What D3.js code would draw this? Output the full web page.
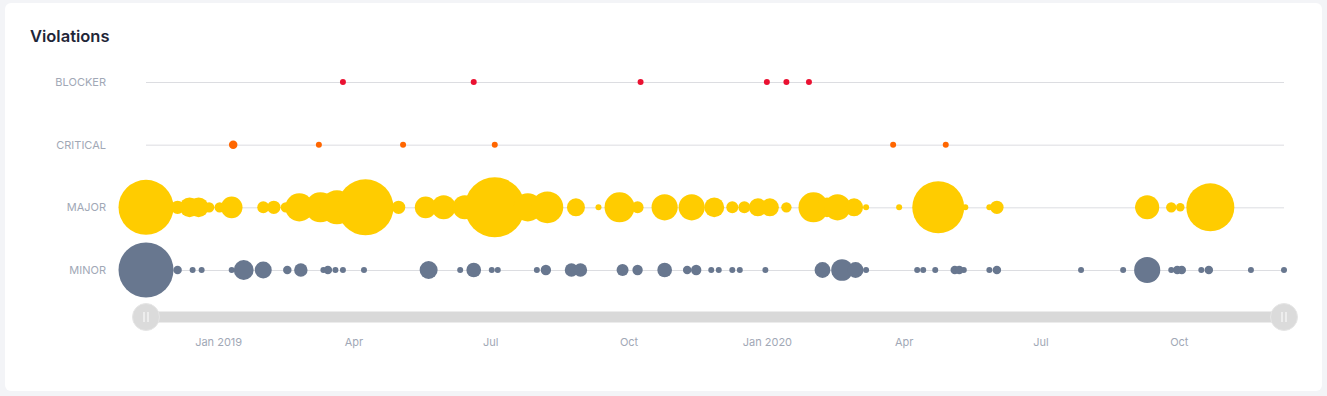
<!DOCTYPE html>
<html>
<head>
<meta charset="utf-8">
<script src="https://cdn.jsdelivr.net/npm/d3@7"></script>
<style>
  body { margin: 0; background: #f3f4f7; font-family: Inter, "Noto Sans", sans-serif; }
  #chart { position: relative; }
</style>
</head>
<body>
<div id="chart"></div>
<script>
// severity rows, top to bottom
var severities = ["BLOCKER", "CRITICAL", "MAJOR", "MINOR"];
var severityColors = ["#ea1131", "#ff6600", "#ffcc00", "#68778f"];

// x-axis tick dates
var tickDates = ["2019-01-01", "2019-04-01", "2019-07-01", "2019-10-01",
                 "2020-01-01", "2020-04-01", "2020-07-01", "2020-10-01"];

// [date, violation count] per severity
var blockerData = [
  ["2019-03-25", 1], ["2019-06-20", 1], ["2019-10-09", 1],
  ["2020-01-01", 1], ["2020-01-14", 1], ["2020-01-29", 1]
];
var criticalData = [
  ["2019-01-11", 2], ["2019-03-09", 1], ["2019-05-04", 1], ["2019-07-04", 1],
  ["2020-03-25", 1], ["2020-04-29", 1]
];
var majorData = [
  ["2018-11-14", 84], ["2018-12-05", 5], ["2018-12-13", 11], ["2018-12-19", 11],
  ["2018-12-26", 3], ["2019-01-02", 3], ["2019-01-10", 13], ["2019-01-31", 4],
  ["2019-02-07", 5], ["2019-02-15", 3], ["2019-02-24", 22], ["2019-03-10", 25],
  ["2019-03-21", 32], ["2019-04-09", 87], ["2019-05-01", 5], ["2019-05-19", 13],
  ["2019-05-31", 16], ["2019-06-14", 16], ["2019-07-04", 100], ["2019-07-26", 22],
  ["2019-08-08", 28], ["2019-08-27", 9], ["2019-09-11", 1], ["2019-09-25", 25],
  ["2019-10-07", 4], ["2019-10-25", 19], ["2019-11-12", 19], ["2019-11-27", 11],
  ["2019-12-09", 4], ["2019-12-17", 4], ["2019-12-26", 9], ["2020-01-03", 9],
  ["2020-01-14", 3], ["2020-02-01", 25], ["2020-02-10", 11], ["2020-02-17", 19],
  ["2020-02-28", 9], ["2020-03-07", 1], ["2020-03-29", 1], ["2020-04-24", 75],
  ["2020-05-12", 1], ["2020-05-28", 1], ["2020-06-02", 5], ["2020-09-04", 1],
  ["2020-09-10", 16], ["2020-09-26", 3], ["2020-10-02", 2], ["2020-10-22", 64]
];
var minorData = [
  ["2018-11-14", 84], ["2018-12-05", 2], ["2018-12-15", 1], ["2018-12-21", 1],
  ["2019-01-10", 1], ["2019-01-18", 11], ["2019-01-31", 8], ["2019-02-16", 2],
  ["2019-02-25", 5], ["2019-03-12", 1], ["2019-03-15", 2], ["2019-03-20", 1],
  ["2019-03-25", 1], ["2019-04-08", 1], ["2019-05-21", 9], ["2019-06-11", 1],
  ["2019-06-20", 6], ["2019-07-02", 1], ["2019-07-06", 1], ["2019-08-01", 1],
  ["2019-08-07", 3], ["2019-08-24", 5], ["2019-08-30", 5], ["2019-09-27", 4],
  ["2019-10-07", 3], ["2019-10-25", 6], ["2019-11-09", 2], ["2019-11-15", 3],
  ["2019-11-25", 1], ["2019-11-30", 1], ["2019-12-09", 1], ["2019-12-14", 1],
  ["2019-12-31", 1], ["2020-02-07", 7], ["2020-02-20", 13], ["2020-02-29", 7],
  ["2020-03-07", 1], ["2020-04-10", 1], ["2020-04-14", 1], ["2020-04-22", 1],
  ["2020-05-05", 2], ["2020-05-08", 2], ["2020-05-11", 1], ["2020-05-28", 1],
  ["2020-06-02", 2], ["2020-07-28", 1], ["2020-08-25", 1], ["2020-09-10", 19],
  ["2020-09-26", 1], ["2020-09-30", 2], ["2020-10-03", 2], ["2020-10-16", 1],
  ["2020-10-21", 2], ["2020-11-18", 1], ["2020-12-10", 1]
];

var seriesData = [blockerData, criticalData, majorData, minorData];

var width = 1327;
var height = 396;
var margin = { top: 82, right: 43, bottom: 126, left: 146 };

var parseDate = d3.timeParse("%Y-%m-%d");

var svg = d3.select("#chart")
  .append("svg")
  .attr("width", width)
  .attr("height", height);

// card
svg.append("rect")
  .attr("x", 5).attr("y", 3)
  .attr("width", 1317).attr("height", 388)
  .attr("rx", 6)
  .attr("fill", "#fff");

svg.append("text")
  .attr("x", 30).attr("y", 42)
  .attr("fill", "#1f2638")
  .style("font-size", "16.5px")
  .style("font-weight", 600)
  .text("Violations");

// flatten everything to get the time extent
var allPoints = [];
seriesData.forEach(function (s, i) {
  s.forEach(function (d) {
    allPoints.push({ sev: severities[i], date: parseDate(d[0]), count: d[1], color: severityColors[i] });
  });
});

var xScale = d3.scaleTime()
  .domain(d3.extent(allPoints, function (d) { return d.date; }))
  .range([margin.left, width - margin.right]);

var yScale = d3.scalePoint()
  .domain(severities)
  .range([margin.top, height - margin.bottom]);

var rScale = d3.scaleSqrt()
  .domain([0, 100])
  .range([0, 30]);

// grid lines for each row
svg.append("g")
  .selectAll("line")
  .data(severities)
  .enter()
  .append("line")
  .attr("x1", xScale.range()[0])
  .attr("x2", xScale.range()[1])
  .attr("y1", function (d) { return yScale(d) + 0.5; })
  .attr("y2", function (d) { return yScale(d) + 0.5; })
  .attr("stroke", "#dcdde1")
  .attr("stroke-width", 1);

// row labels
function yAxis(g) {
  g.attr("transform", "translate(106,0)")
    .call(d3.axisLeft(yScale).tickSize(0).tickPadding(0))
  g.select(".domain").remove();
  g.selectAll("text")
    .attr("fill", "#a1a8b6")
    .style("font-size", "11px")
    .style("font-family", "Inter, sans-serif");
}
svg.append("g").call(yAxis);

// bubbles
svg.append("g")
  .selectAll("circle")
  .data(allPoints)
  .enter()
  .append("circle")
  .attr("cx", function (d) { return xScale(d.date); })
  .attr("cy", function (d) { return yScale(d.sev); })
  .attr("r", function (d) { return rScale(d.count); })
  .attr("fill", function (d) { return d.color; });

// range slider below the bubbles
var sliderY = 317;
svg.append("rect")
  .attr("x", xScale.range()[0])
  .attr("y", sliderY - 5.5)
  .attr("width", xScale.range()[1] - xScale.range()[0])
  .attr("height", 11)
  .attr("fill", "#d9d9d9");

var handles = svg.append("g")
  .selectAll("g")
  .data(xScale.range())
  .enter()
  .append("g")
  .attr("transform", function (d) { return "translate(" + d + "," + sliderY + ")"; });
handles.append("circle")
  .attr("r", 13.5)
  .attr("fill", "#dbdbdb")
  .attr("stroke", "#e6e6e6");
handles.selectAll("line")
  .data([-2, 2])
  .enter()
  .append("line")
  .attr("x1", function (d) { return d; })
  .attr("x2", function (d) { return d; })
  .attr("y1", -5).attr("y2", 5)
  .attr("stroke", "#fff")
  .attr("stroke-width", 1);

// time axis
function xAxis(g) {
  g.attr("transform", "translate(0," + 338 + ")")
    .call(d3.axisBottom(xScale)
      .tickValues(tickDates.map(parseDate))
      .tickSize(0)
      .tickPadding(0)
      .tickFormat(function (d) {
        return d.getMonth() === 0 ? d3.timeFormat("%b %Y")(d) : d3.timeFormat("%b")(d);
      }));
  g.select(".domain").remove();
  g.selectAll("text")
    .attr("fill", "#a1a8b6")
    .style("font-size", "11px")
    .style("font-family", "Inter, sans-serif");
}
svg.append("g").call(xAxis);
</script>
</body>
</html>
